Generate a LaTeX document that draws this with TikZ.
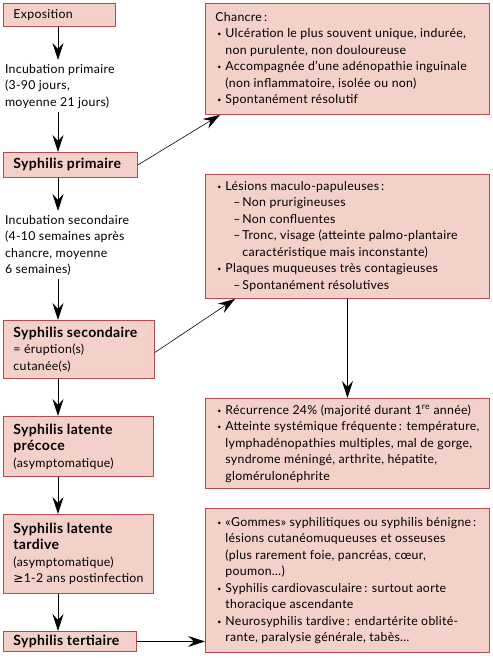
\documentclass[tikz,border=0pt]{standalone}
\usepackage{fontspec}
\setmainfont{Lato}[LetterSpace=2.5]
\newfontfamily\symfont{DejaVu Sans}
\usetikzlibrary{arrows.meta,calc}
\definecolor{boxfill}{RGB}{243,208,200}
\definecolor{boxline}{RGB}{185,70,80}
\newcommand\mybul{\makebox[10bp][l]{\hspace{2bp}\raisebox{1bp}{\fontsize{7bp}{7bp}\selectfont\textbullet}}}
\newcommand\myind{\hspace*{10bp}}
\newcommand\mydash{\hspace*{18bp}\makebox[9bp][l]{--}}
\newcommand\myindd{\hspace*{27bp}}
\newcommand\bt[1]{{\fontsize{14bp}{17bp}\selectfont\bfseries #1}}
\newcommand\bx[2]{\makebox[#1][l]{\parbox{400bp}{\raggedright #2}}}
\begin{document}
\begin{tikzpicture}[x=1bp,y=-1bp,
  fs/.style={font=\fontsize{12.3bp}{16.5bp}\selectfont},
  box/.style={fs, draw=boxline, fill=boxfill, line width=0.9bp, anchor=north west, inner xsep=10bp, inner ysep=0pt},
  lbl/.style={fs, anchor=north west, align=left, inner sep=0pt, outer sep=4bp},
  arr/.style={-{Stealth[length=17bp,width=11bp,inset=6bp]}, line width=0.8bp},
  darr/.style={-{Stealth[length=17bp,width=11bp,inset=6bp]}, line width=0.6bp}]
\useasboundingbox (0,0) rectangle (493,658);
\coordinate (ax) at (58,0);
% left column
\node[box, minimum height=23bp] (expo) at (3,3) {\bx{92bp}{Exposition}};
\node[lbl] (inc1) at (1,60) {Incubation primaire\\(3-90 jours,\\moyenne 21 jours)};
\node[box, minimum height=25bp] (prim) at (3,152) {\bx{114bp}{\bt{Syphilis primaire}}};
\node[lbl] (inc2) at (1,211) {Incubation secondaire\\(4-10 semaines après\\chancre, moyenne\\6 semaines)};
\node[box, minimum height=58bp] (sec) at (3,320) {\bx{131bp}{\bt{Syphilis secondaire}\\= éruption(s)\\cutanée(s)}};
\node[box, minimum height=60bp] (prec) at (3,416) {\bx{130bp}{\bt{Syphilis latente}\\\bt{précoce}\\(asymptomatique)}};
\node[box, minimum height=79bp] (tard) at (3,514) {\bx{130bp}{\bt{Syphilis latente}\\\bt{tardive}\\(asymptomatique)\\{\symfont ≥}1-2 ans postinfection}};
\node[box, minimum height=20bp] (tert) at (3,631) {\bx{113bp}{\bt{Syphilis tertiaire}}};
% right column
\node[box, minimum height=111bp] (chancre) at (205,3) {\bx{264bp}{Chancre\,:\\
\mybul Ulcération le plus souvent unique, indurée,\\
\myind non purulente, non douloureuse\\
\mybul Accompagnée d'une adénopathie inguinale\\
\myind (non inflammatoire, isolée ou non)\\
\mybul Spontanément résolutif}};
\node[box, minimum height=124bp] (les) at (205,174) {\bx{264bp}{\mybul Lésions maculo-papuleuses\,:\\
\mydash Non prurigineuses\\
\mydash Non confluentes\\
\mydash Tronc, visage (atteinte palmo-plantaire\\
\myindd caractéristique mais inconstante)\\
\mybul Plaques muqueuses très contagieuses\\
\mydash Spontanément résolutives}};
\node[box, minimum height=90bp] (b3) at (205,398) {\bx{264bp}{\mybul Récurrence 24\% (majorité durant 1\textsuperscript{re} année)\\
\mybul Atteinte systémique fréquente\,: température,\\
\myind lymphadénopathies multiples, mal de gorge,\\
\myind syndrome méningé, arthrite, hépatite,\\
\myind glomérulonéphrite}};
\node[box, minimum height=144bp] (b4) at (205,508) {\bx{264bp}{\mybul «Gommes» syphilitiques ou syphilis bénigne\,:\\
\myind lésions cutanéomuqueuses et osseuses\\
\myind (plus rarement foie, pancréas, cœur,\\
\myind poumon\ldots)\\
\mybul Syphilis cardiovasculaire\,: surtout aorte\\
\myind thoracique ascendante\\
\mybul Neurosyphilis tardive\,: endartérite oblité-\\
\myind rante, paralysie générale, tabès\ldots}};
% connectors
\draw[arr] (expo.south -| ax) -- (inc1.north -| ax);
\draw[arr] (inc1.south -| ax) -- (prim.north -| ax);
\draw[arr] (prim.south -| ax) -- (inc2.north -| ax);
\draw[arr] (inc2.south -| ax) -- (sec.north -| ax);
\draw[arr] (sec.south -| ax) -- (prec.north -| ax);
\draw[arr] (prec.south -| ax) -- (tard.north -| ax);
\draw[arr] (tard.south -| ax) -- (tert.north -| ax);
\draw[arr] (tert.east) -- (b4.west |- tert.east);
\draw[darr] (prim.east) -- ($(chancre.south west)+(15,0)$);
\draw[darr] ([yshift=-3bp]sec.east) -- ($(les.south west)+(30,0)$);
\draw[arr] (les.south) -- (b3.north);
\end{tikzpicture}
\end{document}
